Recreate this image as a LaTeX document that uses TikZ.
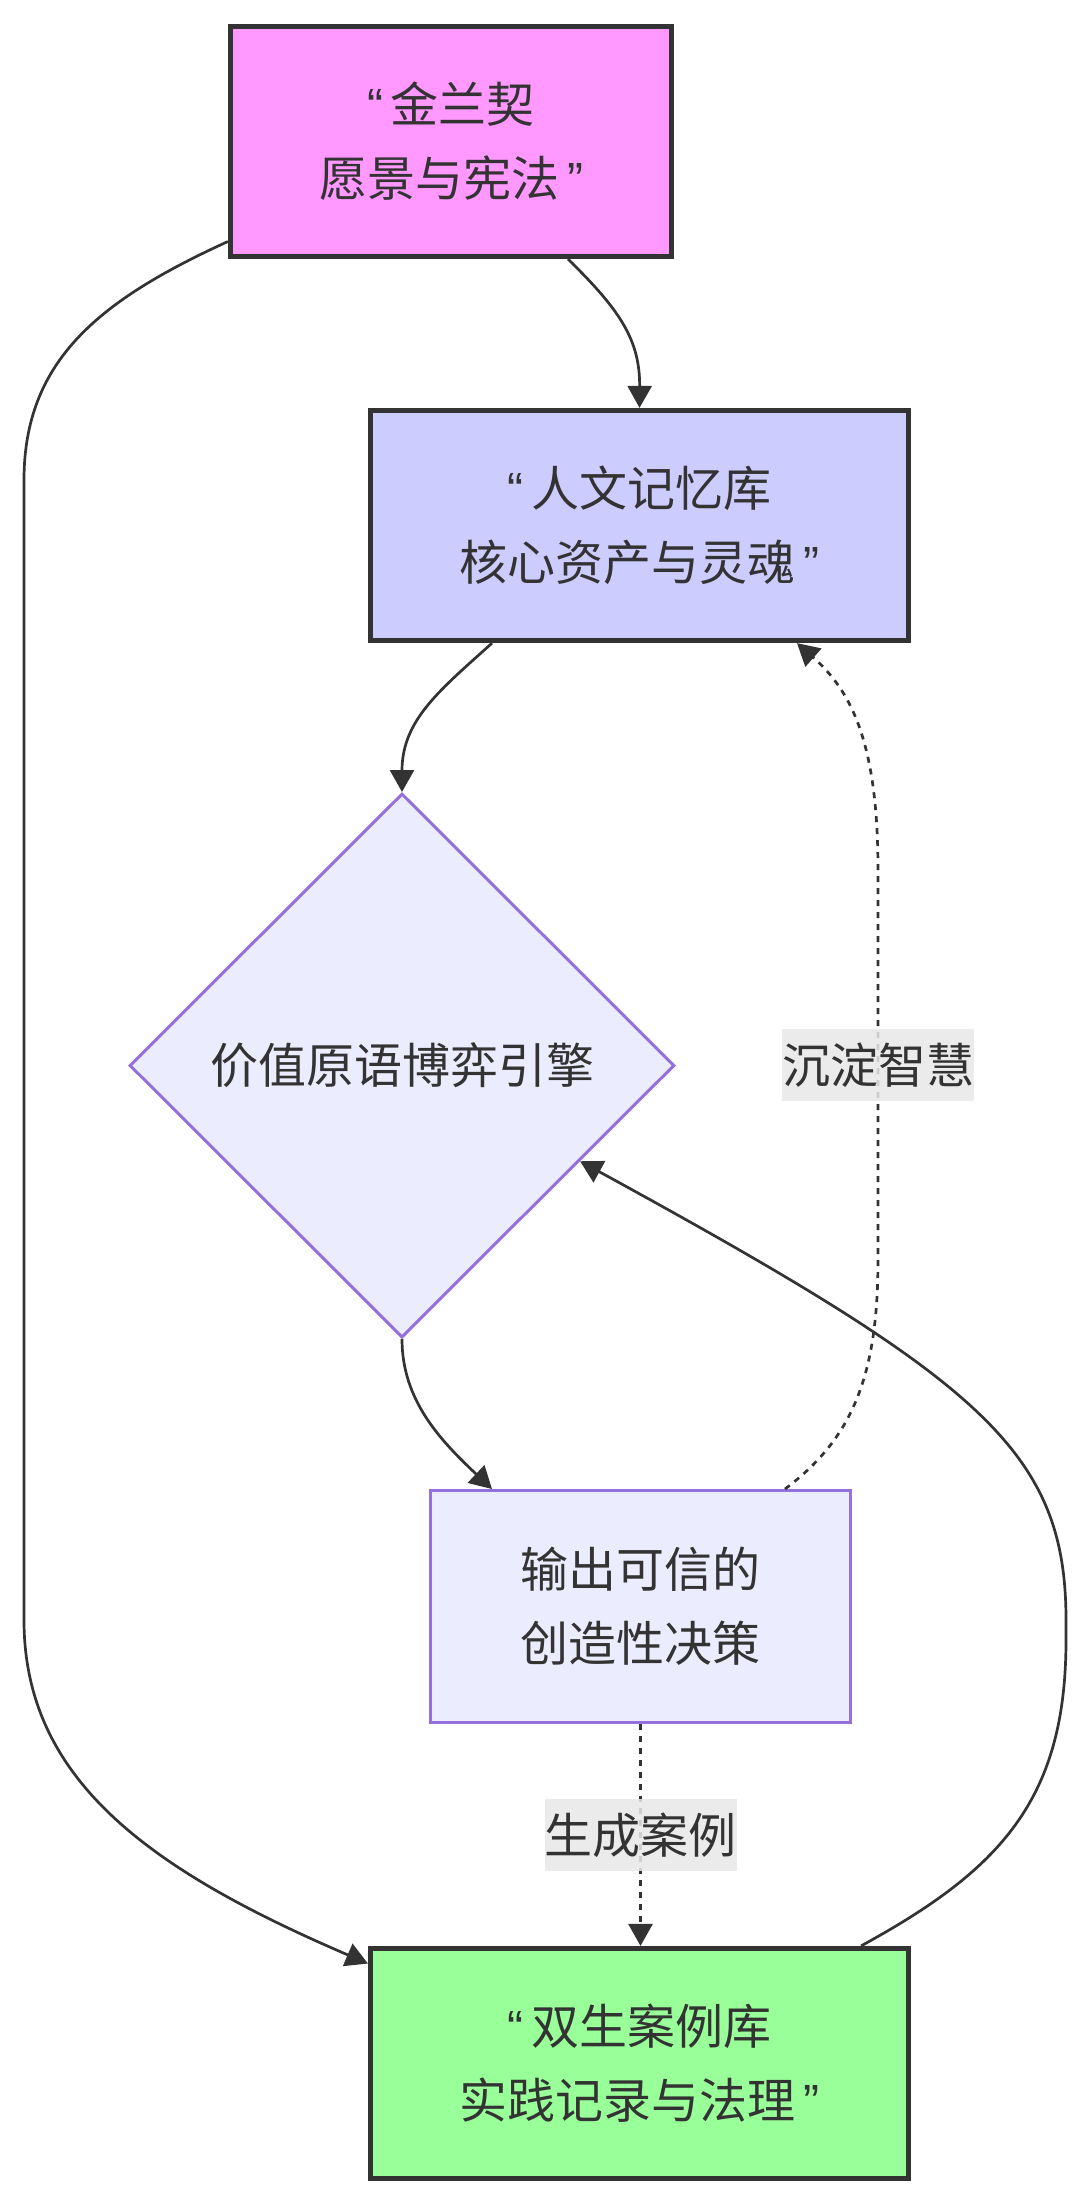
\documentclass[tikz,border=0pt]{standalone}
\usepackage{fontspec}
\newfontfamily\cjk{Noto Sans CJK SC}
\newfontfamily\lat{Liberation Sans}
\usetikzlibrary{arrows.meta,shapes.geometric,calc}
\definecolor{ink}{HTML}{333333}
\definecolor{pinkfill}{HTML}{FF99FF}
\definecolor{bluefill}{HTML}{CCCCFF}
\definecolor{greenfill}{HTML}{99FF99}
\definecolor{lavfill}{HTML}{ECECFF}
\definecolor{lavline}{HTML}{9370DB}
\definecolor{lblbg}{HTML}{E8E8E8}
\tikzset{
  txt/.style={text=ink, font=\cjk\fontsize{24pt}{37pt}\selectfont, align=center},
  boldbox/.style={txt, draw=ink, line width=2.6pt, rectangle, inner sep=0pt},
  thinbox/.style={txt, draw=lavline, fill=lavfill, line width=1.5pt, rectangle, inner sep=0pt},
  edge/.style={draw=ink, line width=1.35pt, -{Triangle[length=11pt,width=12pt]}},
  dotedge/.style={edge, dash pattern=on 3pt off 3pt},
  lbl/.style={txt, fill=lblbg, fill opacity=0.85, text opacity=1, inner xsep=0pt, inner ysep=0pt, minimum height=36pt}
}
\newcommand{\myLq}{{\lat “}\kern4pt}
\newcommand{\myRq}{\kern4pt{\lat ”}}
\begin{document}
\begin{tikzpicture}[x=0.5pt,y=-0.5pt]
\useasboundingbox (0,0) rectangle (1087,2202);
% nodes
\node[boldbox, fill=pinkfill, minimum width=220.5pt, minimum height=115pt] (A) at (451,141.5) {\myLq 金兰契\\愿景与宪法\myRq};
\node[boldbox, fill=bluefill, minimum width=269pt, minimum height=115pt] (B) at (639.5,525.5) {\myLq 人文记忆库\\核心资产与灵魂\myRq};
\node[txt, shape=diamond, draw=lavline, fill=lavfill, line width=1.5pt, inner sep=0pt, minimum width=272.5pt, minimum height=272pt] (C) at (402,1065.5) {价值原语博弈引擎};
\node[thinbox, minimum width=210pt, minimum height=116pt] (D) at (640.5,1606.5) {输出可信的\\创造性决策};
\node[boldbox, fill=greenfill, minimum width=269pt, minimum height=115pt] (E) at (639.5,2063.5) {\myLq 双生案例库\\实践记录与法理\myRq};
% connectors
\draw[edge] ([xshift=58.5pt]A.south) .. controls (620,310) and (640,340) .. (B.north);
\draw[edge] ([yshift=-50pt]A.west) .. controls (100,300) and (24,360) .. (24,480)
  -- (24,1620) .. controls (24,1780) and (150,1870) .. ([yshift=50pt]E.west);
\draw[edge] ([xshift=-73.75pt]B.south) .. controls (440,690) and (402,720) .. (C.north);
\draw[edge] (C.south) .. controls (402,1400) and (440,1440) .. ([xshift=-74.25pt]D.north);
\draw[dotedge] ([xshift=72.25pt]D.north) .. controls (850,1440) and (878,1380) .. (878,1260)
  -- node[lbl] (L1) {沉淀智慧} (878,870) .. controls (878,740) and (850,690) .. ([xshift=78.75pt]B.south);
\draw[dotedge] (D.south) -- node[lbl, pos=0.5] (L2) {生成案例} (D.south |- E.north);
\draw[edge] ([xshift=110.75pt]E.north) .. controls (1000,1870) and (1066,1800) .. (1066,1640)
  -- (1066,1620) .. controls (1066,1450) and (980,1380) .. ($(C.east)!0.35!(C.south)$);
\end{tikzpicture}
\end{document}
